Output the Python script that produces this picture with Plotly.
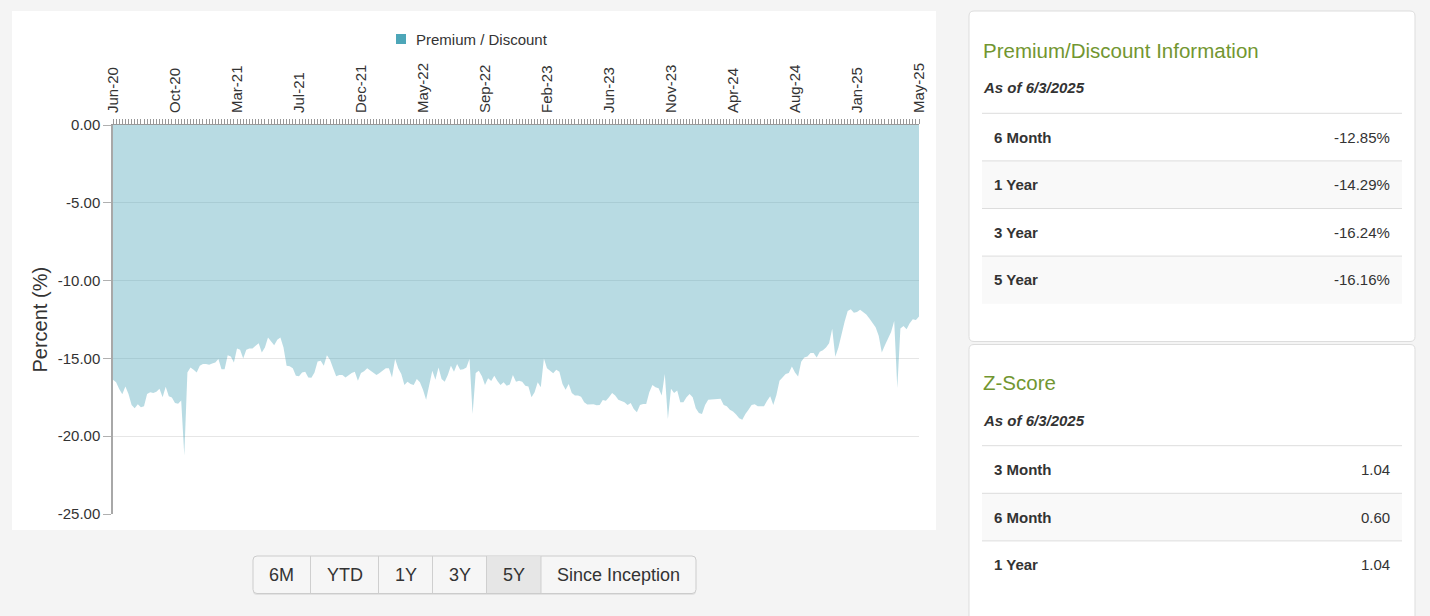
import pandas as pd
import plotly.graph_objects as go

# ---------------- DATA ----------------
START_DATE = "2020-06-05"          # first weekly observation
FREQ = "7D"

PREMIUM_DISCOUNT = [
    -16.37, -16.54, -16.97, -17.31, -16.80, -17.29, -18.00, -18.20, -17.95, -18.14,
    -18.08, -17.29, -17.18, -17.22, -17.14, -16.95, -17.50, -16.82, -17.44, -17.52,
    -17.86, -17.91, -17.70, -21.24, -15.90, -15.58, -15.73, -15.90, -15.47, -15.36,
    -15.36, -15.41, -15.32, -15.26, -15.04, -15.69, -15.69, -14.79, -14.87, -15.26,
    -14.36, -14.45, -15.00, -14.45, -14.36, -14.36, -14.19, -14.02, -14.62, -14.30,
    -13.66, -13.93, -14.15, -13.80, -13.66, -14.30, -15.47, -15.51, -15.64, -16.11,
    -16.15, -15.90, -15.86, -16.22, -16.24, -15.90, -15.20, -15.15, -15.47, -14.79,
    -15.09, -15.64, -16.15, -16.07, -16.07, -16.22, -16.07, -15.94, -15.86, -16.43,
    -15.94, -15.83, -15.64, -15.79, -15.94, -16.07, -15.94, -15.81, -15.64, -15.64,
    -16.22, -15.04, -15.64, -16.01, -16.71, -16.50, -16.65, -16.71, -16.33, -16.54,
    -17.01, -17.65, -16.75, -15.79, -16.37, -15.58, -16.33, -16.50, -16.07, -15.47,
    -15.86, -15.36, -15.73, -15.69, -15.58, -15.04, -18.57, -15.94, -15.79, -16.15,
    -16.71, -16.28, -16.45, -16.11, -16.45, -16.71, -16.54, -16.75, -16.67, -16.07,
    -16.50, -16.43, -16.50, -16.75, -16.80, -17.50, -17.18, -16.54, -16.86, -15.00,
    -15.64, -15.79, -15.96, -15.73, -15.86, -16.65, -17.01, -16.65, -17.22, -17.39,
    -17.39, -17.46, -17.82, -17.97, -17.95, -17.95, -18.01, -17.99, -17.67, -17.72,
    -17.50, -17.22, -17.39, -17.65, -17.74, -17.82, -17.99, -17.86, -18.25, -18.46,
    -17.99, -17.93, -17.93, -17.18, -16.71, -16.86, -16.92, -17.39, -16.00, -18.90,
    -16.95, -17.22, -17.07, -17.82, -17.82, -17.50, -17.29, -17.50, -18.21, -18.51,
    -18.57, -17.99, -17.65, -17.63, -17.63, -17.60, -17.60, -18.00, -18.08, -18.30,
    -18.42, -18.60, -18.85, -18.95, -18.57, -18.30, -18.00, -17.95, -18.08, -18.08,
    -18.08, -17.72, -17.44, -18.00, -17.35, -16.44, -16.22, -16.01, -15.94, -15.52,
    -15.90, -16.16, -15.22, -14.94, -14.88, -14.66, -14.66, -14.94, -14.58, -14.47,
    -14.30, -14.02, -13.10, -14.90, -14.30, -13.44, -12.65, -11.95, -11.84, -12.06,
    -12.01, -11.88, -12.01, -12.18, -12.44, -12.70, -13.00, -13.55, -14.62, -14.15,
    -13.76, -13.30, -12.60, -16.90, -13.08, -12.91, -13.12, -12.74, -12.48, -12.53,
    -12.30,
]

TICK_EVERY = 20
TICK_LABELS = ["Jun-20", "Oct-20", "Mar-21", "Jul-21", "Dec-21", "May-22", "Sep-22",
               "Feb-23", "Jun-23", "Nov-23", "Apr-24", "Aug-24", "Jan-25", "May-25"]
Y_TICKS = [0, -5, -10, -15, -20, -25]
SERIES_NAME = "Premium / Discount"
Y_TITLE = "Percent (%)"

PD_TITLE = "Premium/Discount Information"
PD_LABELS = ["6 Month", "1 Year", "3 Year", "5 Year"]
PD_VALUES = ["-12.85%", "-14.29%", "-16.24%", "-16.16%"]
Z_TITLE = "Z-Score"
Z_LABELS = ["3 Month", "6 Month", "1 Year"]
Z_VALUES = ["1.04", "0.60", "1.04"]
AS_OF = "As of 6/3/2025"
BUTTONS = ["6M", "YTD", "1Y", "3Y", "5Y", "Since Inception"]
ACTIVE_BUTTON = "5Y"

# ---------------- LAYOUT / STYLE ----------------
W, H = 1430, 616
L, R, T, B = 113, 919, 125, 514
PW, PH = R - L, B - T
FONT = "Liberation Sans, Arial, Helvetica, sans-serif"
PAGE_BG = "#f4f4f4"
SERIES_COLOR = "#4DA6B8"
FILL_COLOR = "rgba(77,166,184,0.4)"
TEXT = "#333333"
GREEN = "#729630"
BORDER = "#dddddd"


def px(x):
    return (x - L) / PW


def py(y):
    return (B - y) / PH


def rrect_path(x0, y0, x1, y1, r):
    rx, ry = r / PW, r / PH
    X0, X1, Y0, Y1 = px(x0), px(x1), py(y0), py(y1)
    return (f"M {X0+rx},{Y0} L {X1-rx},{Y0} Q {X1},{Y0} {X1},{Y0-ry} "
            f"L {X1},{Y1+ry} Q {X1},{Y1} {X1-rx},{Y1} L {X0+rx},{Y1} "
            f"Q {X0},{Y1} {X0},{Y1+ry} L {X0},{Y0-ry} Q {X0},{Y0} {X0+rx},{Y0} Z")


def rect(x0, y0, x1, y1, fill, line=None, width=0, layer="below"):
    return dict(type="rect", xref="paper", yref="paper", x0=px(x0), x1=px(x1),
                y0=py(y1), y1=py(y0), fillcolor=fill, layer=layer,
                line=dict(color=line or fill, width=width))


def hline(x0, x1, y, color=BORDER, width=1):
    return dict(type="line", xref="paper", yref="paper", x0=px(x0), x1=px(x1),
                y0=py(y), y1=py(y), line=dict(color=color, width=width), layer="above")


def text(x, y, s, size=15, color=TEXT, xanchor="left", angle=0):
    return dict(x=px(x), y=py(y), xref="paper", yref="paper", text=s, showarrow=False,
                xanchor=xanchor, yanchor="middle", textangle=angle,
                font=dict(family=FONT, size=size, color=color))


dates = pd.date_range(START_DATE, periods=len(PREMIUM_DISCOUNT), freq=FREQ)
y_tick_text = [f"{v:.2f}" for v in Y_TICKS]   # plain hyphen minus, as in the original

fig = go.Figure()
fig.add_trace(go.Scatter(
    x=dates, y=PREMIUM_DISCOUNT, mode="lines", fill="tozeroy",
    fillcolor=FILL_COLOR, line=dict(width=0, color=SERIES_COLOR),
    name=SERIES_NAME, showlegend=False, hoverinfo="skip"))

shapes = []
annotations = []

# white chart panel
shapes.append(rect(12, 11, 936, 530, "white"))
# custom legend
shapes.append(rect(396, 34, 406, 44, SERIES_COLOR, layer="above"))
annotations.append(text(414, 39, SERIES_NAME, size=15))
# y axis title
annotations.append(text(39, 319.5, Y_TITLE, size=20, xanchor="center", angle=-90))

# ---- cards ----
CX0, CX1 = 969, 1415
TX0, TX1 = 982, 1402
LABEL_X, VALUE_X = 992, 1392
ROW_H = 47.6


def card(top, bottom, title, title_y, asof_y, table_top, labels, values):
    shapes.append(dict(type="path", xref="paper", yref="paper",
                       path=rrect_path(CX0, top, CX1, bottom, 5),
                       fillcolor="white", line=dict(color=BORDER, width=1), layer="below"))
    annotations.append(text(TX0 - 1, title_y, title, size=20.5, color=GREEN))
    annotations.append(text(TX0 - 1, asof_y, f"<b><i>{AS_OF}</i></b>", size=15))
    for i, (lab, val) in enumerate(zip(labels, values)):
        y0 = table_top + i * ROW_H
        if i % 2 == 1:
            shapes.append(rect(TX0, y0, TX1, y0 + ROW_H, "#f9f9f9"))
        shapes.append(hline(TX0, TX1, y0))
        annotations.append(text(LABEL_X, y0 + ROW_H / 2, f"<b>{lab}</b>", size=15))
        annotations.append(text(VALUE_X, y0 + ROW_H / 2, val, size=15, xanchor="right"))


card(11, 341.5, PD_TITLE, 50, 87.3, 113.3, PD_LABELS, PD_VALUES)
card(344.5, 660, Z_TITLE, 382.7, 420, 445.7, Z_LABELS, Z_VALUES)

# ---- range buttons ----
BTN_EDGES = [253, 310.5, 378.5, 432.5, 486.5, 541, 696]
BTN_TOP, BTN_BOT = 556, 593.5
shapes.append(dict(type="path", xref="paper", yref="paper",
                   path=rrect_path(BTN_EDGES[0], BTN_TOP + 1.5, BTN_EDGES[-1], BTN_BOT + 1.5, 4),
                   fillcolor="#e2e2e2", line=dict(width=0), layer="below"))
shapes.append(dict(type="path", xref="paper", yref="paper",
                   path=rrect_path(BTN_EDGES[0], BTN_TOP, BTN_EDGES[-1], BTN_BOT, 4),
                   fillcolor="#f6f6f6", line=dict(color="#cccccc", width=1), layer="below"))
for i, lab in enumerate(BUTTONS):
    x0, x1 = BTN_EDGES[i], BTN_EDGES[i + 1]
    if lab == ACTIVE_BUTTON:
        shapes.append(rect(x0, BTN_TOP + 0.5, x1, BTN_BOT - 0.5, "#e6e6e6"))
    if i > 0:
        shapes.append(dict(type="line", xref="paper", yref="paper", x0=px(x0), x1=px(x0),
                           y0=py(BTN_TOP), y1=py(BTN_BOT),
                           line=dict(color="#cfcfcf", width=1), layer="above"))
    annotations.append(text((x0 + x1) / 2, (BTN_TOP + BTN_BOT) / 2, lab, size=18,
                            xanchor="center"))

fig.update_layout(
    width=W, height=H, autosize=False,
    margin=dict(l=L, r=W - R, t=T, b=H - B, pad=0),
    paper_bgcolor=PAGE_BG, plot_bgcolor="white",
    font=dict(family=FONT, size=15, color=TEXT),
    showlegend=False,
    shapes=shapes, annotations=annotations,
    xaxis=dict(
        type="date", side="top", range=[dates[0], dates[-1]],
        tickvals=list(dates[::TICK_EVERY]), ticktext=TICK_LABELS, tickangle=-90,
        ticks="outside", ticklen=5, tickcolor="#999999", tickwidth=1,
        showline=True, linecolor="#999999", linewidth=1,
        showgrid=False, zeroline=False, fixedrange=True,
        tickfont=dict(family=FONT, size=15, color=TEXT),
        ticklabelstandoff=3,
        minor=dict(ticks="outside", ticklen=5, tickcolor="#999999", tickwidth=1,
                   tick0=dates[0], dtick=7 * 24 * 3600 * 1000, showgrid=False),
    ),
    yaxis=dict(
        range=[-25, 0], tickvals=Y_TICKS, ticktext=y_tick_text,
        ticks="outside", ticklen=8, tickcolor="#b0b0b0",
        showline=True, linecolor="#a8a8a8", linewidth=1.5,
        showgrid=True, gridcolor="#e6e6e6", gridwidth=1,
        zeroline=False, fixedrange=True,
        tickfont=dict(family=FONT, size=15, color=TEXT),
    ),
)

fig.write_html("out.html", config={"displayModeBar": False})
